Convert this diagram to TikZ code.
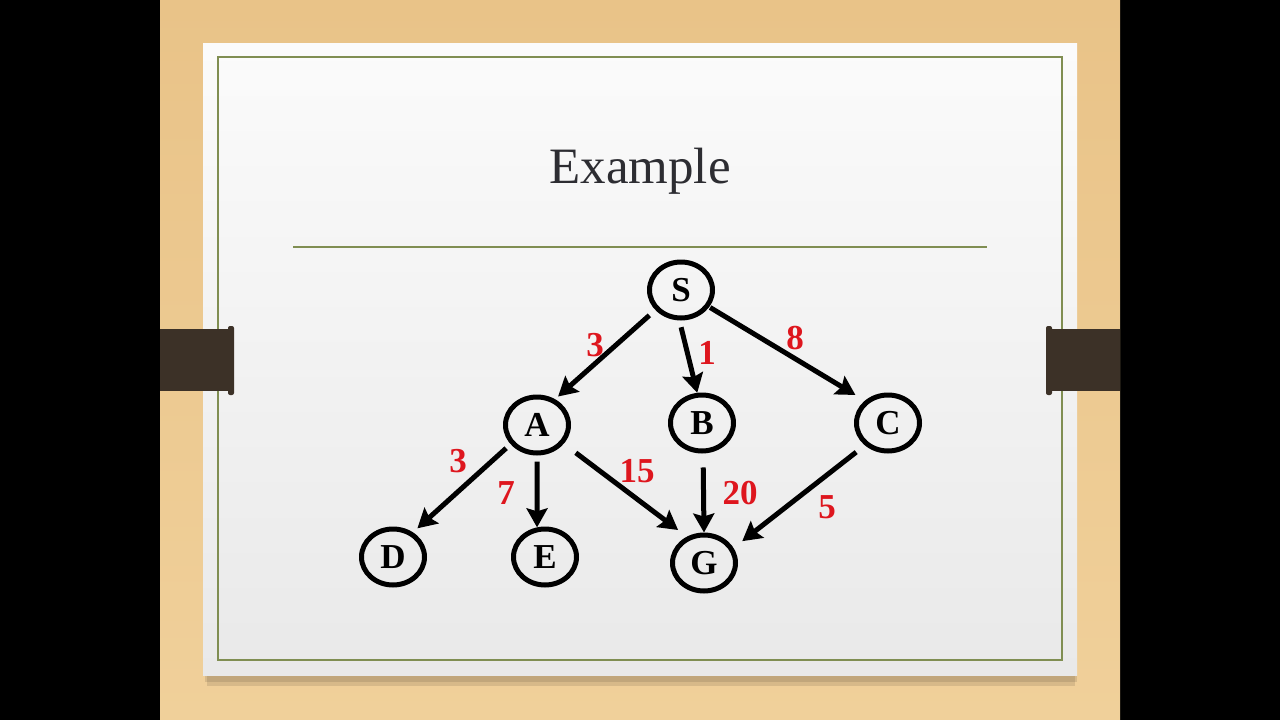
\documentclass[tikz,border=0pt]{standalone}
\usepackage{fontspec}
\newfontfamily\tnr{Liberation Serif}
\usetikzlibrary{arrows.meta,shapes.geometric}
\definecolor{woodtop}{RGB}{233,195,136}
\definecolor{woodbot}{RGB}{240,208,154}
\definecolor{slidetop}{RGB}{251,251,251}
\definecolor{slidebot}{RGB}{233,233,233}
\definecolor{olivel}{RGB}{128,142,82}
\definecolor{tabc}{RGB}{60,49,39}
\definecolor{labred}{RGB}{222,22,30}
\definecolor{titlec}{RGB}{45,45,50}
\begin{document}
\begin{tikzpicture}[x=1pt,y=-1pt,
  vtx/.style={ellipse,draw=black,line width=5pt,minimum width=63pt,minimum height=56pt,inner sep=0pt,
    font=\tnr\bfseries\fontsize{35}{35}\selectfont},
  edge/.style={line width=5pt,-{Stealth[length=19pt,width=21pt,inset=3pt]}},
  wlabel/.style={text=labred,inner sep=0pt,font=\tnr\bfseries\fontsize{35}{35}\selectfont},
  frameline/.style={draw=olivel,line width=2pt},
  tabbar/.style={fill=tabc}]
\useasboundingbox (0,0) rectangle (1280,720);
% background
\fill[black] (0,0) rectangle (1280,720);
\shade[top color=woodtop,bottom color=woodbot] (160,0) rectangle (1120,720);
% slide shadow
\fill[black,opacity=0.10] (207,672) rectangle (1075,686);
\fill[black,opacity=0.10] (205,672) rectangle (1077,682);
% slide
\shade[top color=slidetop,bottom color=slidebot] (203,43) rectangle (1077,675);
\draw[frameline] (218,57) rectangle (1062,660);
\draw[frameline] (293,247) -- (987,247);
% tabs
\fill[tabbar] (160,329) rectangle (231,391);
\fill[tabbar,rounded corners=2pt] (228,326) rectangle (234,395);
\fill[tabbar] (1050,329) rectangle (1120,391);
\fill[tabbar,rounded corners=2pt] (1046,326) rectangle (1052,395);
% title
\node[anchor=base,text=titlec,inner sep=0pt,font=\tnr\fontsize{51}{51}\selectfont] (title) at (640,183) {Example};
% vertices
\node[vtx] (S) at (681,290) {S};
\node[vtx] (A) at (537,425) {A};
\node[vtx] (B) at (702,423) {B};
\node[vtx] (C) at (888,423) {C};
\node[vtx] (D) at (393,557) {D};
\node[vtx] (E) at (545,557) {E};
\node[vtx] (G) at (704,563) {G};
% edges
\draw[edge,shorten <=8pt,shorten >=4pt] (S.-142.9) -- (A.55);
\draw[edge,shorten <=7pt,shorten >=0pt] (S.-93) -- (B.99.5);
\draw[edge,shorten <=1pt,shorten >=11pt] (S.-31.8) -- (C.136.8);
\draw[edge,shorten <=6pt,shorten >=6pt] (A.-144.3) -- (D.51.3);
\draw[edge,shorten <=6pt,shorten >=0pt] (A.-90) -- (E.105);
\draw[edge,shorten <=15pt,shorten >=11pt] (A.-35) -- (G.123.7);
\draw[edge,shorten <=14pt,shorten >=0pt] (B.-88) -- (G.90);
\draw[edge,shorten <=11pt,shorten >=11pt] (C.-136.8) -- (G.27.7);
% weights
\node[wlabel] (wSA) at (595,345) {3};
\node[wlabel] (wSB) at (707,353) {1};
\node[wlabel] (wSC) at (795,338) {8};
\node[wlabel] (wAD) at (458,461) {3};
\node[wlabel] (wAE) at (506,493) {7};
\node[wlabel] (wAG) at (637,471) {15};
\node[wlabel] (wBG) at (740,493) {20};
\node[wlabel] (wCG) at (827,507) {5};
\end{tikzpicture}
\end{document}
